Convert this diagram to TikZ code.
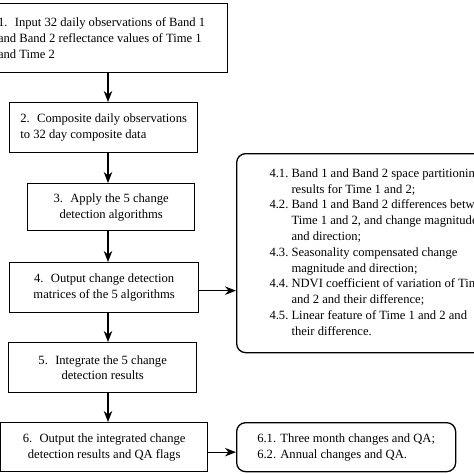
\documentclass[tikz,border=0pt]{standalone}
\usepackage{fontspec}
\setmainfont{Liberation Serif}
\usetikzlibrary{arrows.meta,positioning}

\begin{document}
\begin{tikzpicture}[x=1pt,y=-1pt,
    every node/.style={font=\fontsize{12.6pt}{15.8pt}\selectfont},
    stepbox/.style={draw,line width=1.3pt,inner xsep=6pt,inner ysep=0pt,anchor=north west},
    notebox/.style={draw,line width=1.3pt,rounded corners=9pt,inner xsep=15pt,inner ysep=0pt,anchor=north west,align=left},
    flow/.style={line width=1.1pt,-{Stealth[length=11pt,width=8.5pt,inset=3.5pt]}}]
  \useasboundingbox (0,0) rectangle (474,474);
  \clip (0,0) rectangle (474,474);
  % left column of steps
  \node[stepbox,minimum width=252pt,minimum height=69pt,align=left] (s1) at (-25,3)
    {1.~ Input 32 daily observations of Band 1\\and Band 2 reflectance values of Time 1\\and Time 2};
  \node[stepbox,minimum width=188pt,minimum height=50pt,align=left] (s2) at (9,102)
    {2.~ Composite daily observations\\to 32 day composite data};
  \node[stepbox,minimum width=167pt,minimum height=47pt,align=center] (s3) at (27,183)
    {3.~ Apply the 5 change\\detection algorithms};
  \node[stepbox,minimum width=189pt,minimum height=50pt,align=center] (s4) at (9,262)
    {4.~ Output change detection\\matrices of the 5 algorithms};
  \node[stepbox,minimum width=188pt,minimum height=50pt,align=center] (s5) at (8,342)
    {5.~ Integrate the 5 change\\detection results};
  \node[stepbox,minimum width=207pt,minimum height=49pt,align=center] (s6) at (0,422)
    {6.~ Output the integrated change\\detection results and QA flags};
  % outputs on the right
  \node[notebox,minimum width=290pt,minimum height=199pt] (o4) at (236,153)
    {\begin{tabular}{@{}l@{\ }l@{}}
      4.1. & Band 1 and Band 2 space partitioning\\
           & results for Time 1 and 2;\\
      4.2. & Band 1 and Band 2 differences between\\
           & Time 1 and 2, and change magnitude\\
           & and direction;\\
      4.3. & Seasonality compensated change\\
           & magnitude and direction;\\
      4.4. & NDVI coefficient of variation of Time 1\\
           & and 2 and their difference;\\
      4.5. & Linear feature of Time 1 and 2 and\\
           & their difference.
    \end{tabular}};
  \node[notebox,inner xsep=14pt,minimum width=219pt,minimum height=49pt] (o6) at (236,422)
    {6.1. Three month changes and QA;\\6.2. Annual changes and QA.};
  % connectors
  \coordinate (axis) at (108,0);
  \draw[flow] (s1.south -| axis) -- (s2.north -| axis);
  \draw[flow] (s2.south -| axis) -- (s3.north -| axis);
  \draw[flow] (s3.south -| axis) -- (s4.north -| axis);
  \draw[flow] (s4.south -| axis) -- (s5.north -| axis);
  \draw[flow] (s5.south -| axis) -- (s6.north -| axis);
  \draw[flow] ([yshift=-3pt]s4.east) -- ([yshift=-3pt]s4.east -| o4.west);
  \draw[flow] ([yshift=-5pt]s6.east) -- ([yshift=-5pt]s6.east -| o6.west);
\end{tikzpicture}
\end{document}
